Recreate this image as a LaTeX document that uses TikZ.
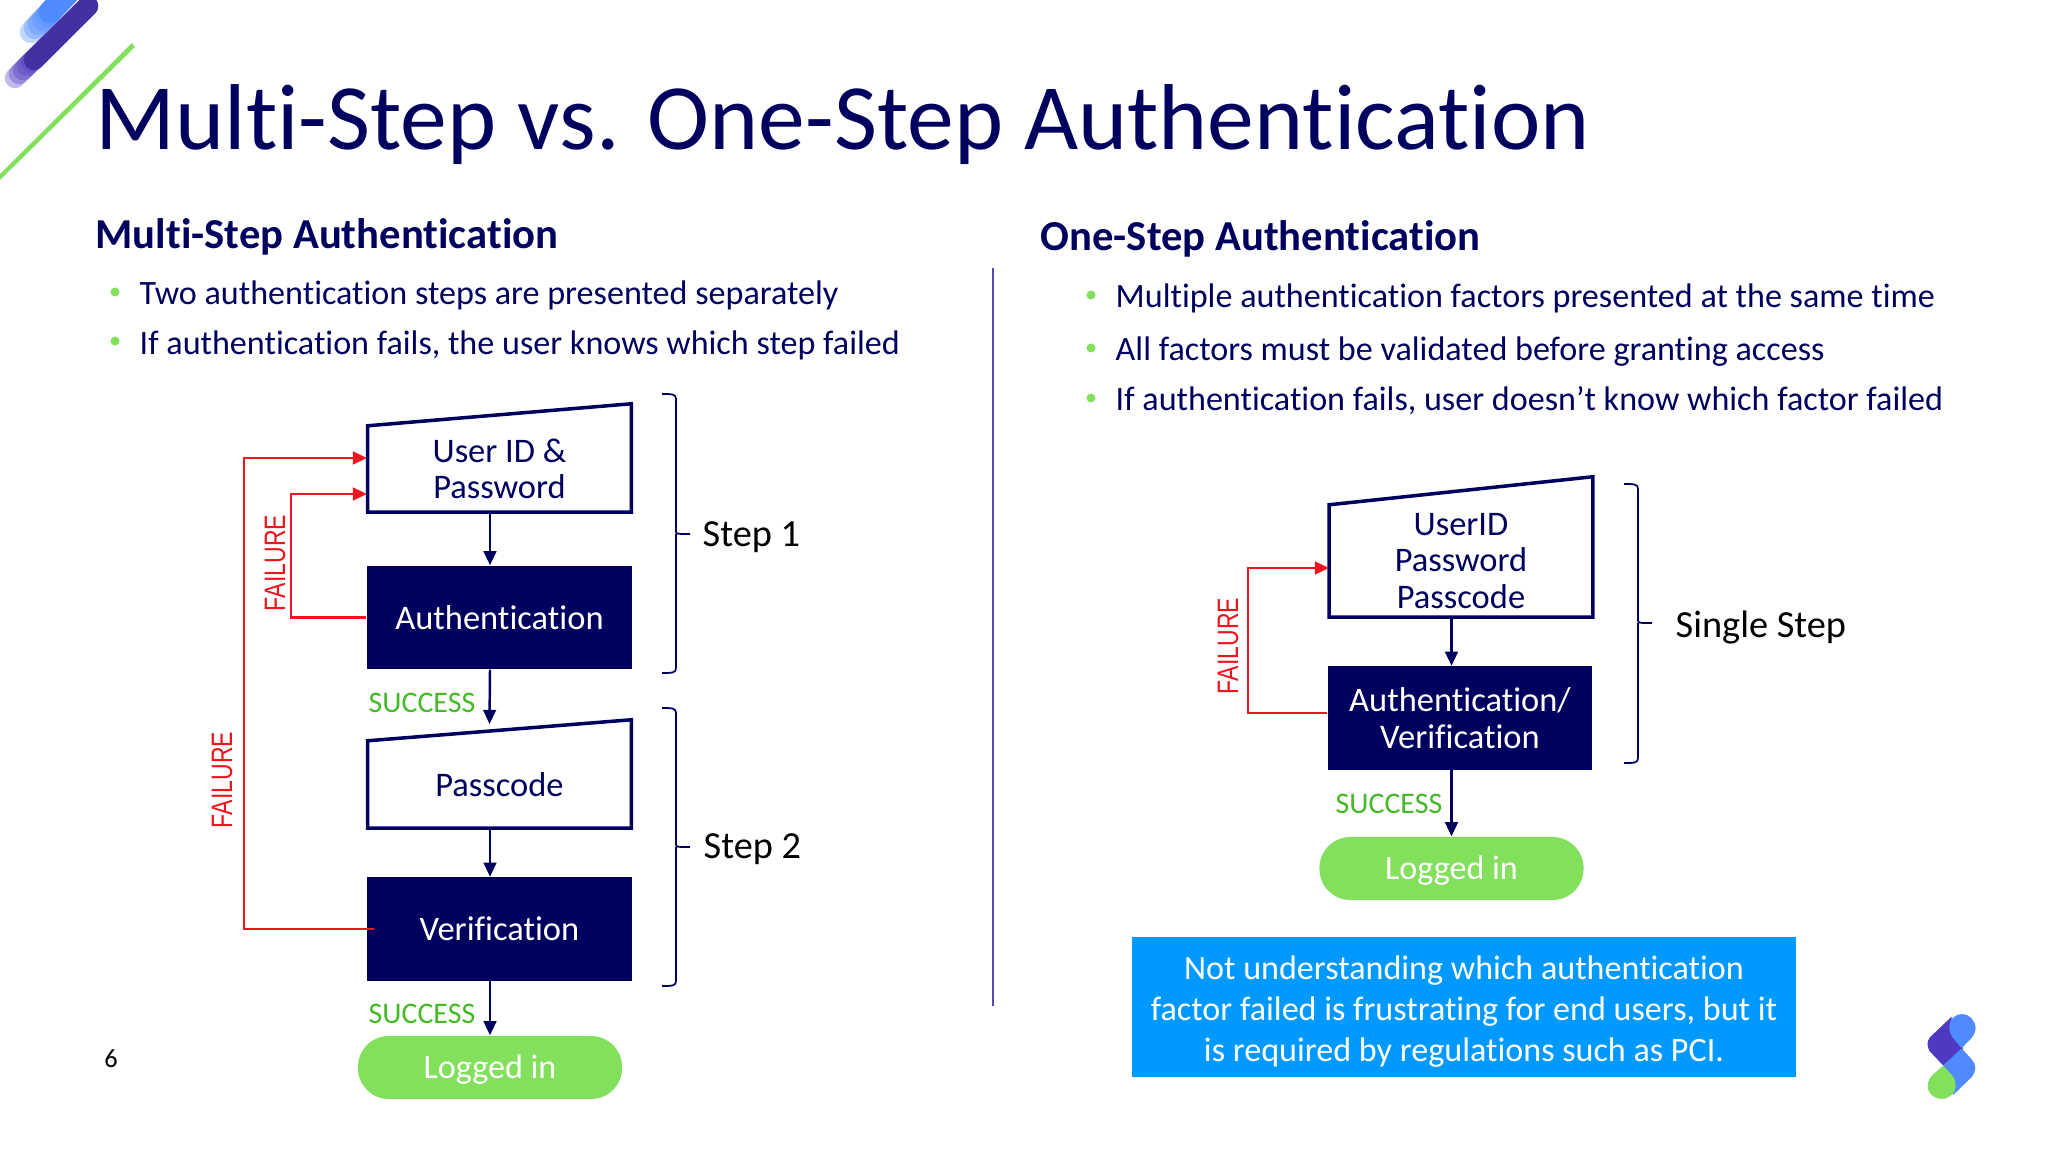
\documentclass[tikz,border=0pt]{standalone}
\usepackage{fontspec}
\setmainfont{Carlito}[Ligatures=NoCommon]
\newfontfamily\failfont[FakeStretch=0.78]{Liberation Sans}
\usetikzlibrary{arrows.meta,calc}
\definecolor{deep_navy}{RGB}{0,0,94}
\definecolor{fail_red}{RGB}{240,20,30}
\definecolor{ok_green}{RGB}{70,185,40}
\definecolor{pill_green}{RGB}{130,224,92}
\definecolor{note_blue}{RGB}{0,153,255}
\definecolor{logo_blue}{RGB}{79,139,255}
\definecolor{logo_purple}{RGB}{80,56,192}

\tikzset{
  flowbox/.style={draw=none,minimum width=2.65cm,align=center,inner sep=0pt,font=\fontsize{9.8pt}{10.4pt}\selectfont},
  inputbox/.style={flowbox,text=deep_navy,minimum width=2.62cm},
  checkbox/.style={flowbox,fill=deep_navy,text=white,minimum height=1.03cm},
  pill/.style={fill=pill_green,text=white,rounded corners=0.31cm,minimum width=2.64cm,minimum height=0.63cm,inner sep=0pt,text depth=0.6pt,font=\fontsize{9.7pt}{12pt}\selectfont},
  flowline/.style={deep_navy,line width=0.7pt,-{Triangle[length=4pt,width=3.6pt]}},
  failline/.style={fail_red,line width=0.7pt},
  failarrow/.style={failline,-{Triangle[length=4pt,width=3.6pt]}},
  faillabel/.style={text=fail_red,rotate=90,inner sep=0pt,font=\failfont\fontsize{8.4pt}{10pt}\selectfont},
  oklabel/.style={text=ok_green,inner sep=0pt,anchor=west,font=\fontsize{8.5pt}{10pt}\selectfont},
  steplabel/.style={anchor=base west,inner sep=0pt,font=\fontsize{10.9pt}{14pt}\selectfont},
  bulletdot/.style={circle,fill=pill_green,minimum size=0.09cm,inner sep=0pt},
  bullettext/.style={anchor=base west,inner sep=0pt,text=deep_navy,font=\fontsize{9.7pt}{12pt}\selectfont},
  headline/.style={anchor=base west,inner sep=0pt,text=deep_navy,font=\bfseries\fontsize{12.13pt}{14pt}\selectfont},
}

% top edge of the input boxes runs uphill
\newcommand{\slanttop}[2]{
  \draw[deep_navy,line width=1pt,line join=miter] (#1.north west) -- (#1.south west) -- (#1.south east)
    -- ($(#1.north east)+(0,-#2)$) -- cycle;
}
% x of spine, top, tip, bottom
\newcommand{\stepbrace}[4]{
  \draw[deep_navy,line width=0.5pt] (#1-14,#2) .. controls (#1-4,#2) and (#1,#2) .. (#1,#2+5)
    -- (#1,#3-3) .. controls (#1,#3) .. (#1+14,#3);
  \draw[deep_navy,line width=0.5pt] (#1,#3) -- (#1,#4-5) .. controls (#1,#4) and (#1-4,#4) .. (#1-14,#4);
}

\begin{document}
\begin{tikzpicture}[x=0.01cm,y=-0.01cm]
  \useasboundingbox (0,0) rectangle (2048,1152);

  % corner strokes
  \foreach \s in {0,4,8,12,16}
    \draw[logo_blue,line width=6.4pt,opacity=0.35,line cap=round] (31+\s,32-\s) -- (72,-11);
  \draw[logo_blue,line width=6.4pt,line cap=round] (50,12) -- (72,-11);
  \foreach \s in {0,4,8,12,16}
    \draw[logo_purple,line width=5.8pt,opacity=0.35,line cap=round] (15+\s,78-\s) -- (88,6);
  \draw[logo_purple!85!black,line width=5.8pt,line cap=round] (34,60) -- (88,6);
  \fill[pill_green] (132,43) -- (135,47) -- (0,180) -- (0,174) -- cycle;

  \node[anchor=base west,inner sep=0pt,text=deep_navy,font=\fontsize{26.6pt}{30pt}\selectfont] (title) at (95,150) {Multi-Step vs. One-Step Authentication};

  % left column
  \node[headline] (multihead) at (95,249) {Multi-Step Authentication};
  \node[bullettext] (mtext1) at (139,305) {Two authentication steps are presented separately};
  \node[bullettext] (mtext2) at (139,355) {If authentication fails, the user knows which step failed};
  \foreach \yb/\nm in {292/mdot1,341/mdot2}
    \node[bulletdot] (\nm) at (115,\yb) {};

  \node[inputbox,minimum height=0.85cm] (user) at (499.5,469) {User ID \&\\Password};
  \node[checkbox] (auth) at (499.5,617.5) {Authentication};
  \node[inputbox,minimum height=0.86cm] (pass) at (499.5,784.5) {Passcode};
  \node[checkbox] (verif) at (499.5,929) {Verification};
  \node[pill] (logged) at (490,1067.5) {Logged in};
  \slanttop{user}{22}
  \slanttop{pass}{21}

  \coordinate (userin1) at (367,458);
  \coordinate (userin2) at (367,494);
  \coordinate (passin) at (489.5,724);
  \coordinate (verifout) at (374,929);

  \draw[flowline] (user.south -| logged) -- (auth.north -| logged);
  \draw[flowline] (auth.south -| logged) -- (passin);
  \draw[flowline] (pass.south -| logged) -- (verif.north -| logged);
  \draw[flowline] (verif.south -| logged) -- (logged.north);
  \draw[failarrow] (auth.west) -- ++(-75,0) |- (userin2);
  \draw[failarrow] (verifout) -- ++(-130,0) |- (userin1);

  \node[faillabel] (fail1) at (275,563) {FAILURE};
  \node[faillabel] (fail2) at (222,780) {FAILURE};
  \node[oklabel] (ok1) at (368,703) {SUCCESS};
  \node[oklabel] (ok2) at (368,1014) {SUCCESS};

  \stepbrace{676}{394}{534}{673}
  \stepbrace{676}{708}{847}{986}
  \node[steplabel] (step1) at (702,547) {Step 1};
  \node[steplabel] (step2) at (703,858) {Step 2};

  \node[anchor=base,inner sep=0pt,font=\fontsize{7.5pt}{8pt}\selectfont] (pagenum) at (111,1067) {6};

  % divider
  \coordinate (divtop) at (993,268);
  \coordinate (divbot) at (993,1006);
  \draw[logo_purple!80!gray,line width=0.4pt] (divtop) -- (divbot);

  % right column
  \node[headline] (onehead) at (1040,251) {One-Step Authentication};
  \node[bullettext] (otext1) at (1115,308) {Multiple authentication factors presented at the same time};
  \node[bullettext] (otext2) at (1115,361) {All factors must be validated before granting access};
  \node[bullettext] (otext3) at (1115,411) {If authentication fails, user doesn’t know which factor failed};
  \foreach \yb/\nm in {295/odot1,348/odot2,398/odot3}
    \node[bulletdot] (\nm) at (1091,\yb) {};

  \node[inputbox,minimum height=1.11cm] (ids) at (1461,561) {UserID\\Password\\Passcode};
  \node[checkbox,minimum width=2.64cm] (check) at (1460,718) {Authentication/\\Verification};
  \node[pill] (loggedr) at (1451.5,868.5) {Logged in};
  \slanttop{ids}{28}

  \coordinate (idsin) at (1329,568);
  \draw[flowline] (ids.south -| loggedr) -- (check.north -| loggedr);
  \draw[flowline] (check.south -| loggedr) -- (loggedr.north);
  \draw[failarrow] (check.west |- 0,713) -- ++(-79,0) |- (idsin);

  \node[faillabel] (fail3) at (1228,646) {FAILURE};
  \node[oklabel] (ok3) at (1335,804) {SUCCESS};

  \stepbrace{1638}{484}{623}{763}
  \node[steplabel] (single) at (1675,637) {Single Step};

  \node[fill=note_blue,text=white,minimum width=6.64cm,minimum height=1.4cm,align=center,inner sep=0pt,
    font=\fontsize{9.7pt}{11.75pt}\selectfont] (note) at (1464,1007)
    {\rule{0pt}{9.3pt}Not understanding which authentication\\factor failed is frustrating for end users, but it\\is required by regulations such as PCI.};

  % logo
  \begin{scope}[shift={(1910,1000)},x=0.00333cm,y=-0.00333cm]
    \fill[logo_purple] (125,50) -- (60,112) .. controls (50,125) and (50,140) .. (60,155) -- (100,197) -- (160,145) -- (125,90) -- cycle;
    \fill[logo_blue] (157,42) .. controls (178,42) and (197,62) .. (197,85) .. controls (197,98) and (190,108) .. (183,116) -- (155,145) -- (130,115) .. controls (122,105) and (118,95) .. (118,80) .. controls (118,58) and (136,42) .. (157,42) -- cycle;
    \fill[logo_blue] (155,145) -- (185,178) .. controls (200,192) and (200,215) .. (185,232) -- (130,285) -- (100,197) -- cycle;
    \fill[pill_green] (100,197) -- (125,225) .. controls (135,235) and (137,247) .. (137,258) .. controls (137,280) and (118,297) .. (95,297) .. controls (72,297) and (53,280) .. (53,258) .. controls (53,245) and (60,233) .. (68,225) -- cycle;
  \end{scope}
\end{tikzpicture}
\end{document}
